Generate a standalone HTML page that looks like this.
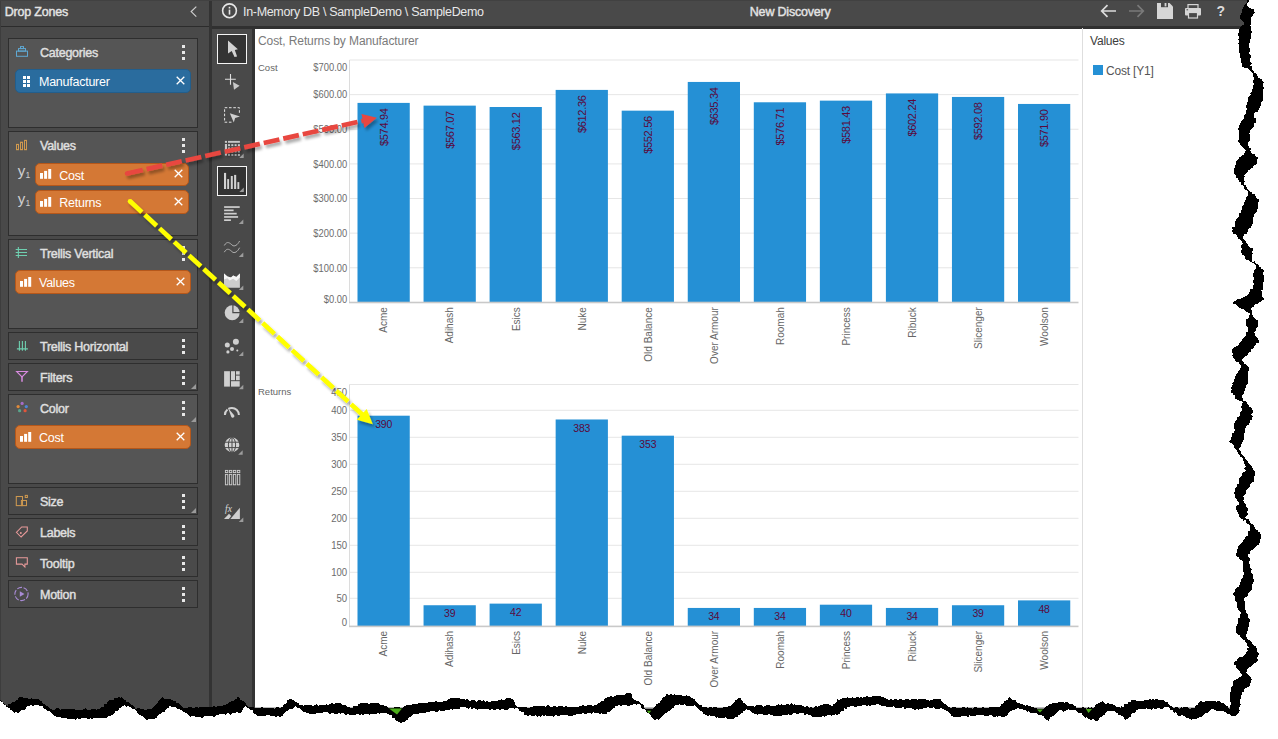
<!DOCTYPE html>
<html>
<head>
<meta charset="utf-8">
<title>Discovery</title>
<style>
html,body{margin:0;padding:0;background:#fff;}
body{width:1278px;height:739px;overflow:hidden;position:relative;font-family:"Liberation Sans",sans-serif;}
.a{position:absolute;}
.t{position:absolute;white-space:nowrap;line-height:1;}
#left{left:0;top:0;width:209px;height:739px;background:#494949;}
#divider{left:209px;top:0;width:3px;height:739px;background:#333;}
#header{left:212px;top:0;width:1066px;height:26px;background:#494949;}
#hline{left:212px;top:26px;width:1066px;height:2.75px;background:#303030;}
#hline2{left:0;top:26px;width:209px;height:1px;background:#2c2c2c;}
#edgeL{left:0;top:0;width:1px;height:739px;background:#3d3d3d;}
#edgeT{left:0;top:0;width:1278px;height:1px;background:#414141;}
#toolbar{left:212px;top:28px;width:40px;height:711px;background:#494949;}
#tbedge{left:252px;top:28px;width:2.7px;height:711px;background:#333;}
.box{position:absolute;left:8px;width:188px;border:1px solid #2e2e2e;background:#555;}
.box.c{background:#4a4a4a;}
.bt{position:absolute;left:31px;top:6.4px;font-size:12.5px;color:#e0e0e0;white-space:nowrap;line-height:16px;letter-spacing:-0.25px;-webkit-text-stroke:0.4px #e0e0e0;}
.dots{position:absolute;left:173px;top:6px;width:3px;height:17px;}
.dots i{position:absolute;left:0;width:3px;height:3px;background:#e8e8e8;}
.chip{position:absolute;height:21.5px;border-radius:5px;border:1px solid #b5571a;background:#d47835;color:#fff;font-size:12.5px;line-height:25px;white-space:nowrap;}
.chip.b{background:#2a6c9e;border-color:#225e8c;}
.chip span{position:absolute;top:0;letter-spacing:-0.25px;}
.corner{position:absolute;right:1px;bottom:1px;width:0;height:0;border-left:5px solid transparent;border-bottom:5px solid #9a9a9a;}
svg{position:absolute;overflow:visible;}
</style>
</head>
<body>
<div id="left" class="a"></div>
<div id="divider" class="a"></div>
<div id="header" class="a"></div>
<div id="toolbar" class="a"></div>
<div id="tbedge" class="a"></div>
<div id="hline" class="a"></div><div id="hline2" class="a"></div><div id="edgeL" class="a"></div><div id="edgeT" class="a"></div>
<!-- LEFT PANEL -->
<div class="t" style="left:4.8px;top:5.8px;font-size:12.5px;color:#e4e4e4;letter-spacing:-0.2px;-webkit-text-stroke:0.4px #e4e4e4;">Drop Zones</div><svg style="left:190px;top:5.5px;" width="8" height="12" viewBox="0 0 8 12"><path d="M6.3 0.6L1.2 5.6L6.3 10.6" stroke="#cfcfcf" stroke-width="1.2" fill="none"/></svg><div class="box" style="top:38px;height:88px;"><svg style="left:5.2px;top:4px;" width="18" height="18" viewBox="0 0 18 18"><g fill="none" stroke="#5fa8d3" stroke-width="1"><rect x="6.5" y="3.6" width="3" height="2"/><rect x="4.5" y="5.6" width="7" height="2.5"/><rect x="2.5" y="8.1" width="11" height="5.2"/></g></svg><div class="bt">Categories</div><div class="dots"><i style="top:0"></i><i style="top:6px"></i><i style="top:12px"></i></div><div class="chip b" style="left:6px;top:30px;width:174px;"><svg style="left:7px;top:6px;" width="8" height="12" viewBox="0 0 8 12"><g fill="#fff"><rect x="0" y="0" width="3" height="3"/><rect x="4" y="0" width="3" height="3"/><rect x="0" y="4" width="3" height="3"/><rect x="4" y="4" width="3" height="3"/><rect x="0" y="8" width="3" height="3"/><rect x="4" y="8" width="3" height="3"/></g></svg><span style="left:23px">Manufacturer</span><svg style="right:5.3px;top:5.7px;" width="9" height="9" viewBox="0 0 9 9"><path d="M0.7 0.7L8.3 8.3M8.3 0.7L0.7 8.3" stroke="#fff" stroke-width="1.3" fill="none"/></svg></div></div><div class="box" style="top:131px;height:103px;"><svg style="left:5.2px;top:4px;" width="18" height="18" viewBox="0 0 18 18"><g fill="none" stroke="#d0994e" stroke-width="1"><rect x="2.5" y="8.4" width="2" height="5.3"/><rect x="6.5" y="6.2" width="2" height="7.5"/><rect x="10.5" y="4.4" width="2" height="9.3"/></g></svg><div class="bt">Values</div><div class="dots"><i style="top:0"></i><i style="top:6px"></i><i style="top:12px"></i></div><div class="t" style="left:8.8px;top:31.2px;font-size:15px;color:#cfcfcf;">y<span style="font-size:8.5px;position:relative;top:1.6px;left:0.3px;">1</span></div><div class="chip" style="left:26.3px;top:30.5px;width:151.5px;"><svg style="left:3.6px;top:5.5px;" width="12" height="10" viewBox="0 0 12 10"><rect x="0" y="4" width="3" height="5.8" fill="#fff"/><rect x="4.1" y="1.9" width="3" height="7.9" fill="#fff"/><rect x="8.2" y="0" width="3" height="9.8" fill="#fff"/></svg><span style="left:23px">Cost</span><svg style="right:5.3px;top:5.7px;" width="9" height="9" viewBox="0 0 9 9"><path d="M0.7 0.7L8.3 8.3M8.3 0.7L0.7 8.3" stroke="#fff" stroke-width="1.3" fill="none"/></svg></div><div class="t" style="left:8.8px;top:59px;font-size:15px;color:#cfcfcf;">y<span style="font-size:8.5px;position:relative;top:1.6px;left:0.3px;">1</span></div><div class="chip" style="left:26.3px;top:58.3px;width:151.5px;"><svg style="left:3.6px;top:5.5px;" width="12" height="10" viewBox="0 0 12 10"><rect x="0" y="4" width="3" height="5.8" fill="#fff"/><rect x="4.1" y="1.9" width="3" height="7.9" fill="#fff"/><rect x="8.2" y="0" width="3" height="9.8" fill="#fff"/></svg><span style="left:23px">Returns</span><svg style="right:5.3px;top:5.7px;" width="9" height="9" viewBox="0 0 9 9"><path d="M0.7 0.7L8.3 8.3M8.3 0.7L0.7 8.3" stroke="#fff" stroke-width="1.3" fill="none"/></svg></div></div><div class="box" style="top:239px;height:88px;"><svg style="left:5.2px;top:4px;" width="18" height="18" viewBox="0 0 18 18"><g fill="none" stroke="#6fcfb0" stroke-width="1.1"><path d="M1.7 5.5H13M1.7 8.45H13M1.7 11.45H13M4.35 2.9V14"/></g></svg><div class="bt">Trellis Vertical</div><div class="dots"><i style="top:0"></i><i style="top:6px"></i><i style="top:12px"></i></div><div class="chip" style="left:6px;top:30px;width:174px;"><svg style="left:3.6px;top:5.5px;" width="12" height="10" viewBox="0 0 12 10"><rect x="0" y="4" width="3" height="5.8" fill="#fff"/><rect x="4.1" y="1.9" width="3" height="7.9" fill="#fff"/><rect x="8.2" y="0" width="3" height="9.8" fill="#fff"/></svg><span style="left:23px">Values</span><svg style="right:5.3px;top:5.7px;" width="9" height="9" viewBox="0 0 9 9"><path d="M0.7 0.7L8.3 8.3M8.3 0.7L0.7 8.3" stroke="#fff" stroke-width="1.3" fill="none"/></svg></div></div><div class="box c" style="top:332px;height:26px;"><svg style="left:5.2px;top:4px;" width="18" height="18" viewBox="0 0 18 18"><g fill="none" stroke="#6fcfb0" stroke-width="1.1"><path d="M5.4 3.9V13.7M8.4 3.9V13.7M11.4 3.9V13.7M2.9 11.9H13.9"/></g></svg><div class="bt">Trellis Horizontal</div><div class="dots"><i style="top:0"></i><i style="top:6px"></i><i style="top:12px"></i></div></div><div class="box c" style="top:363px;height:26px;"><svg style="left:5.2px;top:4px;" width="18" height="18" viewBox="0 0 18 18"><g fill="none" stroke="#d98be0"><path d="M2.6 3.5H13.4L8 9L2.6 3.5Z" stroke-width="1.1"/><path d="M8 8.6V13.8" stroke-width="1.5"/></g></svg><div class="bt">Filters</div><div class="dots"><i style="top:0"></i><i style="top:6px"></i><i style="top:12px"></i></div><div class="corner"></div></div><div class="box" style="top:394px;height:88px;"><svg style="left:5.2px;top:4px;" width="18" height="18" viewBox="0 0 18 18"><circle cx="8.15" cy="4.4" r="1.6" fill="#a56cc8"/><circle cx="4.1" cy="7.6" r="1.6" fill="#e08a3a"/><circle cx="12.3" cy="7.6" r="1.6" fill="#4f86d8"/><circle cx="5.6" cy="11.7" r="1.6" fill="#5aa58c"/><circle cx="11.1" cy="11.7" r="1.6" fill="#e2553a"/></svg><div class="bt">Color</div><div class="dots"><i style="top:0"></i><i style="top:6px"></i><i style="top:12px"></i></div><div class="corner" style="bottom:auto;top:22px;"></div><div class="chip" style="left:6px;top:30px;width:174px;"><svg style="left:3.6px;top:5.5px;" width="12" height="10" viewBox="0 0 12 10"><rect x="0" y="4" width="3" height="5.8" fill="#fff"/><rect x="4.1" y="1.9" width="3" height="7.9" fill="#fff"/><rect x="8.2" y="0" width="3" height="9.8" fill="#fff"/></svg><span style="left:23px">Cost</span><svg style="right:5.3px;top:5.7px;" width="9" height="9" viewBox="0 0 9 9"><path d="M0.7 0.7L8.3 8.3M8.3 0.7L0.7 8.3" stroke="#fff" stroke-width="1.3" fill="none"/></svg></div></div><div class="box c" style="top:487px;height:26px;"><svg style="left:5.2px;top:4px;" width="18" height="18" viewBox="0 0 18 18"><g fill="none" stroke="#cc9850" stroke-width="1.05"><rect x="2.3" y="4.5" width="6.2" height="9.1"/><rect x="7.4" y="8.5" width="5.1" height="5.1"/><rect x="11.25" y="3.4" width="2.15" height="2.1"/></g></svg><div class="bt">Size</div><div class="dots"><i style="top:0"></i><i style="top:6px"></i><i style="top:12px"></i></div><div class="corner"></div></div><div class="box c" style="top:518px;height:26px;"><svg style="left:5.2px;top:4px;" width="18" height="18" viewBox="0 0 18 18"><g fill="none" stroke="#e89a9a" stroke-width="1.05"><path d="M2.4 9.3L7.7 4H13.3V8L7.1 14Z"/></g><circle cx="6.8" cy="9.9" r="1" fill="#e89a9a"/></svg><div class="bt">Labels</div><div class="dots"><i style="top:0"></i><i style="top:6px"></i><i style="top:12px"></i></div></div><div class="box c" style="top:549px;height:26px;"><svg style="left:5.2px;top:4px;" width="18" height="18" viewBox="0 0 18 18"><g fill="none" stroke="#e89a9a" stroke-width="1.05"><path d="M2.4 3.7H13.3V10.1H10.9V13L8 10.1H2.4Z"/></g></svg><div class="bt">Tooltip</div><div class="dots"><i style="top:0"></i><i style="top:6px"></i><i style="top:12px"></i></div></div><div class="box c" style="top:580px;height:26px;"><svg style="left:5.2px;top:4px;" width="18" height="18" viewBox="0 0 18 18"><g fill="none" stroke="#a98bd6" stroke-width="1.1"><circle cx="7.5" cy="9" r="6.6" stroke-dasharray="5 1.6"/></g><path d="M5.8 6.3L10.5 9L5.8 11.7Z" fill="#a98bd6"/></svg><div class="bt">Motion</div><div class="dots"><i style="top:0"></i><i style="top:6px"></i><i style="top:12px"></i></div></div>
<!-- HEADER -->
<svg style="left:221px;top:3px;" width="17" height="17" viewBox="0 0 17 17"><circle cx="8.5" cy="7.8" r="6.9" fill="none" stroke="#e6e6e6" stroke-width="1.6"/><rect x="7.7" y="6.6" width="1.6" height="5" fill="#e6e6e6"/><rect x="7.7" y="3.8" width="1.6" height="1.7" fill="#e6e6e6"/></svg><div class="t" style="left:243px;top:5.5px;font-size:12.5px;color:#e8e8e8;letter-spacing:-0.32px;">In-Memory DB \ SampleDemo \ SampleDemo</div><div class="t" style="left:749.8px;top:5.7px;font-size:12.5px;color:#e4e4e4;letter-spacing:-0.2px;-webkit-text-stroke:0.4px #e4e4e4;">New Discovery</div><svg style="left:1100px;top:4px;" width="17" height="14" viewBox="0 0 17 14"><path d="M16 7H2M7.5 1.2L1.7 7L7.5 12.8" stroke="#dcdcdc" stroke-width="1.7" fill="none"/></svg><svg style="left:1128px;top:4px;" width="17" height="14" viewBox="0 0 17 14"><path d="M1 7H15M9.5 1.2L15.3 7L9.5 12.8" stroke="#7a7a7a" stroke-width="1.7" fill="none"/></svg><svg style="left:1157px;top:3px;" width="16" height="16" viewBox="0 0 16 16"><path d="M0 0H12.5L16 3.5V16H0Z" fill="#d6d6d6"/><rect x="4" y="0" width="7" height="4.2" fill="#494949"/><rect x="7.6" y="0" width="1.8" height="3.4" fill="#d6d6d6"/></svg><svg style="left:1185px;top:4px;" width="16" height="15" viewBox="0 0 16 15"><rect x="3" y="0.6" width="10" height="4" fill="none" stroke="#d6d6d6" stroke-width="1.2"/><rect x="0" y="4" width="16" height="7.5" rx="1" fill="#d6d6d6"/><rect x="3.5" y="8.5" width="9" height="5.5" fill="#494949" stroke="#d6d6d6" stroke-width="1.2"/><rect x="1.5" y="5.3" width="1.6" height="1" fill="#494949"/></svg><div class="t" style="left:1216.5px;top:4px;font-size:14px;font-weight:bold;color:#dcdcdc;">?</div>
<!-- CHART -->
<div class="a" style="left:254.7px;top:28.75px;width:1024px;height:711px;background:#fff;"></div><div class="t" style="left:258px;top:35px;font-size:12px;color:#7a7a7a;letter-spacing:-0.1px;">Cost, Returns by Manufacturer</div><div class="a" style="left:1082px;top:28px;width:1px;height:711px;background:#dedede;"></div><div class="t" style="left:1090px;top:35px;font-size:12px;color:#3c3c3c;letter-spacing:-0.2px;">Values</div><div class="a" style="left:1093px;top:65px;width:10px;height:10px;background:#2590d5;"></div><div class="t" style="left:1106px;top:64.5px;font-size:12px;color:#555;letter-spacing:-0.2px;">Cost [Y1]</div><div class="t" style="left:258px;top:63px;font-size:9.5px;color:#666;">Cost</div><div class="t" style="left:258px;top:387px;font-size:9.5px;color:#666;">Returns</div><svg style="left:0;top:0;" width="1278" height="739" viewBox="0 0 1278 739" font-family="Liberation Sans, sans-serif"><text transform="translate(347.2,302.90) scale(0.875,1)" font-size="10.7" fill="#6c6c6c" text-anchor="end">$0.00</text><rect x="349.5" y="267.27" width="729.0" height="1" fill="#e6e6e6"/><text transform="translate(347.2,271.57) scale(0.875,1)" font-size="10.7" fill="#6c6c6c" text-anchor="end">$100.00</text><rect x="349.5" y="232.64" width="729.0" height="1" fill="#e6e6e6"/><text transform="translate(347.2,236.94) scale(0.875,1)" font-size="10.7" fill="#6c6c6c" text-anchor="end">$200.00</text><rect x="349.5" y="198.01" width="729.0" height="1" fill="#e6e6e6"/><text transform="translate(347.2,202.31) scale(0.875,1)" font-size="10.7" fill="#6c6c6c" text-anchor="end">$300.00</text><rect x="349.5" y="163.39" width="729.0" height="1" fill="#e6e6e6"/><text transform="translate(347.2,167.69) scale(0.875,1)" font-size="10.7" fill="#6c6c6c" text-anchor="end">$400.00</text><rect x="349.5" y="128.76" width="729.0" height="1" fill="#e6e6e6"/><text transform="translate(347.2,133.06) scale(0.875,1)" font-size="10.7" fill="#6c6c6c" text-anchor="end">$500.00</text><rect x="349.5" y="94.13" width="729.0" height="1" fill="#e6e6e6"/><text transform="translate(347.2,98.43) scale(0.875,1)" font-size="10.7" fill="#6c6c6c" text-anchor="end">$600.00</text><rect x="349.5" y="59.50" width="729.0" height="1" fill="#e6e6e6"/><text transform="translate(347.2,71.10) scale(0.875,1)" font-size="10.7" fill="#6c6c6c" text-anchor="end">$700.00</text><rect x="349.0" y="60" width="1" height="242.39999999999998" fill="#dcdcdc"/><rect x="357.5" y="102.90" width="52.25" height="199.50" fill="#2590d5"/><text transform="translate(387.82,108.40) rotate(-90)" font-size="11" fill="#5a093c" text-anchor="end" letter-spacing="-0.3">$574.94</text><rect x="423.55" y="105.63" width="52.25" height="196.77" fill="#2590d5"/><text transform="translate(453.88,111.13) rotate(-90)" font-size="11" fill="#5a093c" text-anchor="end" letter-spacing="-0.3">$567.07</text><rect x="489.6" y="107.00" width="52.25" height="195.40" fill="#2590d5"/><text transform="translate(519.93,112.50) rotate(-90)" font-size="11" fill="#5a093c" text-anchor="end" letter-spacing="-0.3">$563.12</text><rect x="555.65" y="89.91" width="52.25" height="212.49" fill="#2590d5"/><text transform="translate(585.98,95.41) rotate(-90)" font-size="11" fill="#5a093c" text-anchor="end" letter-spacing="-0.3">$612.36</text><rect x="621.7" y="110.66" width="52.25" height="191.74" fill="#2590d5"/><text transform="translate(652.03,116.16) rotate(-90)" font-size="11" fill="#5a093c" text-anchor="end" letter-spacing="-0.3">$552.56</text><rect x="687.75" y="81.94" width="52.25" height="220.46" fill="#2590d5"/><text transform="translate(718.08,87.44) rotate(-90)" font-size="11" fill="#5a093c" text-anchor="end" letter-spacing="-0.3">$635.34</text><rect x="753.8" y="102.28" width="52.25" height="200.12" fill="#2590d5"/><text transform="translate(784.12,107.78) rotate(-90)" font-size="11" fill="#5a093c" text-anchor="end" letter-spacing="-0.3">$576.71</text><rect x="819.8499999999999" y="100.64" width="52.25" height="201.76" fill="#2590d5"/><text transform="translate(850.17,106.14) rotate(-90)" font-size="11" fill="#5a093c" text-anchor="end" letter-spacing="-0.3">$581.43</text><rect x="885.9" y="93.42" width="52.25" height="208.98" fill="#2590d5"/><text transform="translate(916.23,98.92) rotate(-90)" font-size="11" fill="#5a093c" text-anchor="end" letter-spacing="-0.3">$602.24</text><rect x="951.9499999999999" y="96.95" width="52.25" height="205.45" fill="#2590d5"/><text transform="translate(982.27,102.45) rotate(-90)" font-size="11" fill="#5a093c" text-anchor="end" letter-spacing="-0.3">$592.08</text><rect x="1018.0" y="103.95" width="52.25" height="198.45" fill="#2590d5"/><text transform="translate(1048.33,109.45) rotate(-90)" font-size="11" fill="#5a093c" text-anchor="end" letter-spacing="-0.3">$571.90</text><rect x="349.0" y="301.7" width="729.5" height="1.6" fill="#c9c9c9"/><text transform="translate(387.43,307.20) rotate(-90)" font-size="10" fill="#666" text-anchor="end">Acme</text><text transform="translate(453.48,307.20) rotate(-90)" font-size="10" fill="#666" text-anchor="end">Adihash</text><text transform="translate(519.52,307.20) rotate(-90)" font-size="10" fill="#666" text-anchor="end">Esics</text><text transform="translate(585.57,307.20) rotate(-90)" font-size="10" fill="#666" text-anchor="end">Nuke</text><text transform="translate(651.62,307.20) rotate(-90)" font-size="10" fill="#666" text-anchor="end">Old Balance</text><text transform="translate(717.67,307.20) rotate(-90)" font-size="10" fill="#666" text-anchor="end">Over Armour</text><text transform="translate(783.72,307.20) rotate(-90)" font-size="10" fill="#666" text-anchor="end">Roomah</text><text transform="translate(849.77,307.20) rotate(-90)" font-size="10" fill="#666" text-anchor="end">Princess</text><text transform="translate(915.82,307.20) rotate(-90)" font-size="10" fill="#666" text-anchor="end">Ribuck</text><text transform="translate(981.87,307.20) rotate(-90)" font-size="10" fill="#666" text-anchor="end">Slicenger</text><text transform="translate(1047.92,307.20) rotate(-90)" font-size="10" fill="#666" text-anchor="end">Woolson</text><text transform="translate(347.2,626.30) scale(0.9,1)" font-size="10.7" fill="#6c6c6c" text-anchor="end">0</text><rect x="349.5" y="597.80" width="729.0" height="1" fill="#e6e6e6"/><text transform="translate(347.2,602.10) scale(0.9,1)" font-size="10.7" fill="#6c6c6c" text-anchor="end">50</text><rect x="349.5" y="571.80" width="729.0" height="1" fill="#e6e6e6"/><text transform="translate(347.2,576.10) scale(0.9,1)" font-size="10.7" fill="#6c6c6c" text-anchor="end">100</text><rect x="349.5" y="544.80" width="729.0" height="1" fill="#e6e6e6"/><text transform="translate(347.2,549.10) scale(0.9,1)" font-size="10.7" fill="#6c6c6c" text-anchor="end">150</text><rect x="349.5" y="517.80" width="729.0" height="1" fill="#e6e6e6"/><text transform="translate(347.2,522.10) scale(0.9,1)" font-size="10.7" fill="#6c6c6c" text-anchor="end">200</text><rect x="349.5" y="490.80" width="729.0" height="1" fill="#e6e6e6"/><text transform="translate(347.2,495.10) scale(0.9,1)" font-size="10.7" fill="#6c6c6c" text-anchor="end">250</text><rect x="349.5" y="463.80" width="729.0" height="1" fill="#e6e6e6"/><text transform="translate(347.2,468.10) scale(0.9,1)" font-size="10.7" fill="#6c6c6c" text-anchor="end">300</text><rect x="349.5" y="436.80" width="729.0" height="1" fill="#e6e6e6"/><text transform="translate(347.2,441.10) scale(0.9,1)" font-size="10.7" fill="#6c6c6c" text-anchor="end">350</text><rect x="349.5" y="409.80" width="729.0" height="1" fill="#e6e6e6"/><text transform="translate(347.2,414.10) scale(0.9,1)" font-size="10.7" fill="#6c6c6c" text-anchor="end">400</text><rect x="349.5" y="384.00" width="729.0" height="1" fill="#e6e6e6"/><text transform="translate(347.2,395.80) scale(0.9,1)" font-size="10.7" fill="#6c6c6c" text-anchor="end">450</text><rect x="349.0" y="384.5" width="1" height="241.79999999999995" fill="#dcdcdc"/><rect x="357.5" y="415.70" width="52.25" height="210.60" fill="#2590d5"/><text x="383.62" y="427.90" font-size="10.5" fill="#5a093c" text-anchor="middle" letter-spacing="-0.2">390</text><rect x="423.55" y="605.24" width="52.25" height="21.06" fill="#2590d5"/><text x="449.68" y="617.44" font-size="10.5" fill="#5a093c" text-anchor="middle" letter-spacing="-0.2">39</text><rect x="489.6" y="603.62" width="52.25" height="22.68" fill="#2590d5"/><text x="515.73" y="615.82" font-size="10.5" fill="#5a093c" text-anchor="middle" letter-spacing="-0.2">42</text><rect x="555.65" y="419.48" width="52.25" height="206.82" fill="#2590d5"/><text x="581.77" y="431.68" font-size="10.5" fill="#5a093c" text-anchor="middle" letter-spacing="-0.2">383</text><rect x="621.7" y="435.68" width="52.25" height="190.62" fill="#2590d5"/><text x="647.83" y="447.88" font-size="10.5" fill="#5a093c" text-anchor="middle" letter-spacing="-0.2">353</text><rect x="687.75" y="607.94" width="52.25" height="18.36" fill="#2590d5"/><text x="713.88" y="620.14" font-size="10.5" fill="#5a093c" text-anchor="middle" letter-spacing="-0.2">34</text><rect x="753.8" y="607.94" width="52.25" height="18.36" fill="#2590d5"/><text x="779.92" y="620.14" font-size="10.5" fill="#5a093c" text-anchor="middle" letter-spacing="-0.2">34</text><rect x="819.8499999999999" y="604.70" width="52.25" height="21.60" fill="#2590d5"/><text x="845.97" y="616.90" font-size="10.5" fill="#5a093c" text-anchor="middle" letter-spacing="-0.2">40</text><rect x="885.9" y="607.94" width="52.25" height="18.36" fill="#2590d5"/><text x="912.02" y="620.14" font-size="10.5" fill="#5a093c" text-anchor="middle" letter-spacing="-0.2">34</text><rect x="951.9499999999999" y="605.24" width="52.25" height="21.06" fill="#2590d5"/><text x="978.07" y="617.44" font-size="10.5" fill="#5a093c" text-anchor="middle" letter-spacing="-0.2">39</text><rect x="1018.0" y="600.38" width="52.25" height="25.92" fill="#2590d5"/><text x="1044.12" y="612.58" font-size="10.5" fill="#5a093c" text-anchor="middle" letter-spacing="-0.2">48</text><rect x="349.0" y="625.5999999999999" width="729.5" height="1.6" fill="#c9c9c9"/><text transform="translate(387.43,630.90) rotate(-90)" font-size="10" fill="#666" text-anchor="end">Acme</text><text transform="translate(453.48,630.90) rotate(-90)" font-size="10" fill="#666" text-anchor="end">Adihash</text><text transform="translate(519.52,630.90) rotate(-90)" font-size="10" fill="#666" text-anchor="end">Esics</text><text transform="translate(585.57,630.90) rotate(-90)" font-size="10" fill="#666" text-anchor="end">Nuke</text><text transform="translate(651.62,630.90) rotate(-90)" font-size="10" fill="#666" text-anchor="end">Old Balance</text><text transform="translate(717.67,630.90) rotate(-90)" font-size="10" fill="#666" text-anchor="end">Over Armour</text><text transform="translate(783.72,630.90) rotate(-90)" font-size="10" fill="#666" text-anchor="end">Roomah</text><text transform="translate(849.77,630.90) rotate(-90)" font-size="10" fill="#666" text-anchor="end">Princess</text><text transform="translate(915.82,630.90) rotate(-90)" font-size="10" fill="#666" text-anchor="end">Ribuck</text><text transform="translate(981.87,630.90) rotate(-90)" font-size="10" fill="#666" text-anchor="end">Slicenger</text><text transform="translate(1047.92,630.90) rotate(-90)" font-size="10" fill="#666" text-anchor="end">Woolson</text></svg>
<!-- TOOLBAR ICONS -->
<svg style="left:0;top:0;" width="1278" height="739" viewBox="0 0 1278 739"><rect x="217.5" y="34.5" width="29" height="29" fill="#333" stroke="#f4f4f4" stroke-width="1"/><rect x="217.5" y="166.5" width="29" height="29" fill="#333" stroke="#f4f4f4" stroke-width="1"/><path d="M228 40.6L237.9 49.3L234.8 50L237.1 56.5L234.5 57.1L231.7 50.9L228 53.6Z" fill="#d2d2d2"/><path d="M225 79.2H235.8M230.5 74V84.8" stroke="#e0e0e0" stroke-width="1.1" fill="none"/><path d="M232.9 81.9L239.6 85.8L234 89.8Z" fill="#c8c8c8"/><path d="M231.5 122.2H224.6V107.7H239.4V113" fill="none" stroke="#e4e4e4" stroke-width="1" stroke-dasharray="2.6 1.7"/><path d="M229.8 113.2L240 116.4L235.1 117.9L233.8 122.4Z" fill="#d0d0d0"/><g fill="#c8c8c8"><rect x="224.9" y="140.9" width="2.1" height="1.9"/><rect x="228" y="140.9" width="11.9" height="1.9"/><rect x="224.9" y="144" width="2.1" height="11.6"/><rect x="228.0" y="144.20" width="2" height="1.9"/><rect x="231.3" y="144.20" width="2" height="1.9"/><rect x="234.6" y="144.20" width="2" height="1.9"/><rect x="237.9" y="144.20" width="2" height="1.9"/><rect x="228.0" y="147.45" width="2" height="1.9"/><rect x="231.3" y="147.45" width="2" height="1.9"/><rect x="234.6" y="147.45" width="2" height="1.9"/><rect x="237.9" y="147.45" width="2" height="1.9"/><rect x="228.0" y="150.70" width="2" height="1.9"/><rect x="231.3" y="150.70" width="2" height="1.9"/><rect x="234.6" y="150.70" width="2" height="1.9"/><rect x="237.9" y="150.70" width="2" height="1.9"/><rect x="228.0" y="153.95" width="2" height="1.9"/><rect x="231.3" y="153.95" width="2" height="1.9"/><rect x="234.6" y="153.95" width="2" height="1.9"/><rect x="237.9" y="153.95" width="2" height="1.9"/></g><path d="M243.7 153.6V158.1H239.2Z" fill="#9c9c9c"/><g fill="#d2d2d2"><rect x="224" y="172.9" width="2.1" height="16.1"/><rect x="227.2" y="179.1" width="1.9" height="9.9"/><rect x="230.8" y="176" width="2" height="13"/><rect x="234.1" y="174.9" width="2.1" height="14.1"/><rect x="237.4" y="182.1" width="1.9" height="6.9"/></g><path d="M243.8 187.4V191.9H239.3Z" fill="#9c9c9c"/><g fill="#cfcfcf"><rect x="224.1" y="206.2" width="15.6" height="1.7"/><rect x="224.1" y="209.5" width="9.5" height="1.7"/><rect x="224.1" y="212.8" width="12.6" height="1.7"/><rect x="224.1" y="216.1" width="14" height="1.7"/><rect x="224.1" y="219.3" width="6.8" height="1.7"/></g><path d="M243.3 219.6V224.1H238.8Z" fill="#9c9c9c"/><g fill="none" stroke="#b0b0b0" stroke-width="1"><path d="M224.3 245.5C227 240.5 230 243 232 245C234.5 247.3 237.5 245 239.6 241"/><path d="M224.3 252.2C227 247.2 230 249.7 232 251.7C234.5 254 237.5 251.7 239.6 247.7"/></g><path d="M243.3 252.4V256.9H238.8Z" fill="#9c9c9c"/><path d="M224 273.4L227.4 276.5L231 277.4L233.2 275.6L236.3 277L239.9 273.6V287.7H224Z" fill="#cdcdcd"/><path d="M224 273.4L227.4 276.5L231 277.4L233.2 275.6L236.3 277L239.9 273.6V277.6L236.3 281L233.2 278.7L229.6 280.5L227.4 278.3L224 279.4Z" fill="#f6f6f6"/><path d="M243.3 285.6V290.1H238.8Z" fill="#9c9c9c"/><circle cx="232.2" cy="312.7" r="7.5" fill="#d0d0d0"/><path d="M232.9 304.8V312.6H240.2" fill="none" stroke="#494949" stroke-width="1.2"/><path d="M243.3 318.6V323.1H238.8Z" fill="#9c9c9c"/><g fill="#cfcfcf"><circle cx="235.9" cy="341.7" r="3"/><circle cx="227.3" cy="345" r="2.5"/><circle cx="232" cy="349" r="2"/><circle cx="227.9" cy="351.9" r="1.6"/><circle cx="237.3" cy="350.6" r="1"/></g><path d="M243.3 351.6V356.1H238.8Z" fill="#9c9c9c"/><g fill="#cfcfcf"><rect x="224.1" y="371.2" width="5.8" height="15.4"/><rect x="231" y="371.2" width="4" height="9"/><rect x="236" y="371.2" width="3.7" height="3.4"/><rect x="236" y="375.6" width="3.7" height="4.6"/><rect x="231" y="381.2" width="8.7" height="5.4"/></g><path d="M243.3 384.8V389.3H238.8Z" fill="#9c9c9c"/><path d="M224.9 415A7 7 0 0 1 238.9 415" fill="none" stroke="#d2d2d2" stroke-width="2" stroke-dasharray="6.2 1 100"/><path d="M228.2 408.3L234.2 415.2A1.7 1.7 0 0 1 231.2 416.8Z" fill="#d2d2d2"/><circle cx="232" cy="444.9" r="7.3" fill="#d2d2d2"/><g stroke="#494949" stroke-width="1" fill="none"><path d="M224.5 442.2H239.5M224.5 447.6H239.5M232 437.5V452.4"/><ellipse cx="232" cy="444.9" rx="3.6" ry="7.3"/></g><path d="M242.7 450.3V454.8H238.2Z" fill="#9c9c9c"/><g fill="none" stroke="#cfcfcf" stroke-width="0.9"><rect x="225.4" y="470.4" width="2.4" height="2.2"/><rect x="225.4" y="474.4" width="2.4" height="10.4"/><rect x="229.4" y="470.4" width="2.4" height="2.2"/><rect x="229.4" y="474.4" width="2.4" height="10.4"/><rect x="233.4" y="470.4" width="2.4" height="2.2"/><rect x="233.4" y="474.4" width="2.4" height="10.4"/><rect x="237.4" y="470.4" width="2.4" height="2.2"/><rect x="237.4" y="474.4" width="2.4" height="10.4"/></g><text x="225" y="511.6" font-family="Liberation Serif" font-style="italic" font-size="9.5" fill="#dadada">fx</text><path d="M224 518.9L229 513.7L231.2 516.1L228.8 518.9Z" fill="#cfcfcf"/><path d="M230.4 518.9L239.9 507.7V518.9Z" fill="#cfcfcf"/><path d="M243.3 517.6V522.1H238.8Z" fill="#9c9c9c"/></svg>
<!-- ARROWS -->
<svg style="left:0;top:0;" width="1278" height="739" viewBox="0 0 1278 739"><defs><filter id="sh" x="-10%" y="-10%" width="120%" height="130%"><feGaussianBlur in="SourceAlpha" stdDeviation="1.5"/><feOffset dx="1.5" dy="2.5"/><feComponentTransfer><feFuncA type="linear" slope="0.33"/></feComponentTransfer><feMerge><feMergeNode/><feMergeNode in="SourceGraphic"/></feMerge></filter></defs><g filter="url(#sh)"><path d="M127.1 173.5L363 120.8" stroke="#e8473f" stroke-width="4.7" stroke-dasharray="16 4" fill="none"/><circle cx="127.1" cy="173.5" r="2.35" fill="#e8473f"/><path d="M376.9 117.8L361.5 114L364.4 127.9Z" fill="#e8473f"/></g><g filter="url(#sh)"><path d="M130.1 201.3L362.3 414.6" stroke="#ffff00" stroke-width="4.7" stroke-dasharray="16 4" fill="none"/><circle cx="130.1" cy="201.3" r="2.35" fill="#ffff00"/><path d="M372.8 424.3L356.6 419.8L366.7 409Z" fill="#ffff00"/></g></svg>
<!-- TORN EDGE -->
<svg style="left:0;top:0;" width="1278" height="739" viewBox="0 0 1278 739"><rect x="255" y="707.6" width="975" height="1.1" fill="#555"/><polygon points="0.0,700.0 1.6,700.6 2.4,702.1 3.9,702.8 4.9,704.2 6.1,705.2 7.7,705.7 8.3,704.2 10.7,704.5 11.4,702.6 12.7,701.6 15.0,701.8 15.8,700.0 17.6,699.5 18.6,698.0 20.1,697.1 21.8,696.6 23.3,697.8 24.9,698.5 26.7,698.0 28.3,698.7 29.9,698.8 31.8,697.9 33.3,699.5 35.0,699.4 36.7,699.1 38.5,698.8 40.0,700.3 41.4,701.1 42.5,702.6 43.6,704.0 45.2,704.8 46.3,706.3 48.4,706.6 49.2,708.3 51.0,709.0 52.6,709.9 54.3,709.8 55.9,708.2 57.5,708.3 59.2,708.4 60.8,709.9 62.4,708.9 64.1,709.3 65.7,708.6 67.3,709.0 69.0,708.8 70.6,708.7 72.2,709.2 73.9,709.2 75.5,709.8 77.1,709.4 78.8,709.9 80.4,709.7 82.0,710.0 83.7,709.3 85.3,708.3 86.9,709.7 88.6,709.9 90.2,709.8 91.8,709.1 93.5,709.4 95.1,708.4 96.7,709.7 98.4,709.1 100.0,708.8 100.7,707.2 103.0,707.3 104.4,706.4 104.4,703.9 106.7,703.8 107.4,702.1 108.3,700.6 109.9,699.9 111.8,700.1 113.6,699.9 114.9,697.8 116.9,698.5 118.4,697.0 120.4,697.9 122.0,696.9 122.8,698.7 123.9,699.9 125.8,700.3 126.4,702.1 128.6,702.2 130.2,702.9 130.8,704.8 132.8,705.0 133.8,706.4 134.8,707.8 135.9,709.1 137.7,708.3 139.3,708.1 141.0,709.7 142.7,708.6 144.3,709.9 146.0,709.8 147.7,708.8 149.3,708.9 151.0,709.0 152.4,707.9 153.6,706.6 154.8,705.2 156.1,704.1 157.7,703.2 158.3,701.3 159.5,700.0 161.1,699.1 161.8,697.4 163.7,697.6 165.0,699.3 166.9,698.9 168.5,699.3 170.4,698.7 171.8,700.0 173.3,700.7 175.1,700.6 176.1,702.2 177.4,703.2 179.4,703.3 180.0,705.2 181.5,705.9 182.5,707.3 184.1,707.9 185.7,708.3 187.4,708.3 189.0,706.8 190.6,706.9 192.3,708.0 194.0,708.5 195.6,707.0 197.3,707.4 199.0,707.6 200.7,707.0 202.3,707.0 204.0,706.8 205.7,706.9 207.3,707.3 209.0,706.8 210.6,706.6 212.3,707.2 213.7,705.6 215.4,706.5 217.0,706.7 218.6,705.7 220.1,705.4 221.9,706.4 223.4,705.1 225.0,705.3 226.3,704.5 228.0,704.1 228.8,702.3 230.4,701.8 231.8,701.0 233.7,701.0 234.7,699.4 236.6,699.3 237.3,697.3 238.9,696.9 239.9,698.4 240.7,700.0 242.5,700.6 244.0,701.5 245.3,702.6 245.8,704.3 247.2,705.3 248.4,706.6 250.0,707.1 252.0,706.4 253.5,707.1 254.9,708.2 256.7,708.3 258.3,708.6 260.0,707.7 261.7,707.3 263.3,707.6 265.0,708.6 266.7,707.5 268.3,707.7 270.0,707.8 271.7,707.8 273.3,707.8 275.0,708.8 276.7,707.3 278.3,707.0 280.0,708.4 281.8,707.3 283.2,706.2 283.7,704.2 285.6,703.6 286.9,702.4 287.1,700.1 289.1,699.6 290.2,698.2 291.2,699.3 292.8,700.2 294.5,700.9 295.9,702.0 297.5,702.9 299.1,703.7 300.0,705.6 301.6,704.9 303.4,705.8 304.9,704.1 306.7,705.6 308.4,705.1 310.0,704.8 311.6,705.5 313.3,705.6 315.0,705.2 316.8,704.2 318.3,705.8 320.0,705.2 321.5,704.9 323.2,705.4 324.8,704.9 326.3,704.4 328.1,705.2 329.6,704.4 331.1,703.6 332.7,703.2 334.4,704.2 335.9,703.2 337.5,703.2 339.3,703.2 341.0,703.4 342.5,704.6 344.0,705.6 346.0,704.9 347.3,706.6 348.9,707.3 350.7,707.6 352.4,707.7 353.8,705.9 355.9,706.2 357.8,705.9 358.8,703.7 360.6,703.3 362.4,702.8 364.2,703.2 366.0,703.0 367.8,703.2 369.5,704.0 371.3,702.5 373.1,702.7 374.8,703.0 376.5,703.1 378.3,703.0 380.0,704.4 381.2,705.3 383.3,704.6 384.5,706.0 386.1,706.3 387.7,707.0 389.0,707.9 390.7,708.2 392.4,708.0 394.1,707.5 395.7,707.1 397.4,707.3 399.1,706.9 400.8,707.7 402.5,707.7 404.1,706.7 405.6,705.5 407.3,705.1 409.1,704.9 410.9,704.8 412.6,704.2 414.1,703.6 415.8,704.3 417.4,703.8 419.0,703.3 420.6,703.0 422.2,703.1 423.9,703.4 425.5,702.6 427.2,703.0 428.7,702.4 430.3,701.8 432.0,702.3 433.7,702.4 435.2,701.0 436.9,701.6 438.5,701.5 440.2,702.2 441.8,702.2 443.4,700.9 445.0,701.3 446.8,701.0 448.0,699.4 449.7,699.2 451.0,698.0 453.1,698.7 454.5,697.9 456.1,697.3 457.4,698.0 459.0,698.2 460.5,698.8 462.2,698.9 464.0,698.5 465.3,699.8 467.2,699.2 468.6,699.9 469.9,701.2 471.7,700.1 473.3,700.2 475.0,700.2 476.7,701.8 478.3,700.4 480.0,700.0 481.7,701.7 483.3,700.2 485.0,701.7 486.7,701.3 488.3,701.7 490.0,701.9 491.7,701.2 493.3,701.6 495.0,700.6 496.7,701.2 498.2,700.4 499.9,700.5 501.3,699.0 503.1,700.0 504.8,700.1 506.0,698.0 507.7,698.3 509.4,698.4 511.0,698.3 512.5,699.2 513.7,700.6 514.7,702.2 515.1,704.1 516.0,705.8 517.6,707.0 519.2,706.8 520.8,707.0 522.5,707.0 524.2,707.2 525.9,706.6 527.5,707.5 529.4,708.1 530.8,706.7 532.6,707.0 534.0,705.5 535.9,706.2 537.5,705.7 539.1,705.9 540.7,705.7 542.4,705.7 544.0,706.1 545.6,706.7 547.3,705.2 548.9,705.2 550.5,706.6 552.1,707.0 553.7,706.3 555.4,706.2 557.0,706.8 558.7,705.8 560.3,706.1 561.9,706.0 563.5,706.9 565.1,706.4 566.8,706.3 568.4,707.3 570.0,707.4 571.6,706.5 573.4,707.2 575.0,706.5 576.7,707.3 578.3,706.7 580.0,705.9 581.6,705.7 583.3,705.2 585.0,706.1 586.7,705.8 588.3,705.2 590.0,705.5 591.6,705.3 593.4,706.1 595.0,705.2 596.9,705.4 597.8,703.6 599.3,702.8 600.5,701.7 602.3,701.3 603.7,700.4 604.8,699.0 606.1,697.9 607.6,697.1 609.2,697.4 610.7,696.2 612.4,696.6 614.1,696.8 615.5,695.5 617.0,694.8 618.7,694.5 620.4,695.1 622.0,694.8 623.7,695.0 625.3,694.6 626.7,693.1 628.3,692.7 630.0,692.8 631.5,694.0 631.7,696.0 632.4,697.6 633.3,699.1 635.2,699.9 636.3,701.5 638.5,701.3 640.0,702.4 640.9,704.1 643.0,704.5 644.2,705.8 644.3,708.2 646.1,708.9 647.6,708.7 649.2,709.2 650.9,709.4 652.5,708.6 653.4,707.6 654.7,706.6 655.9,705.5 656.7,704.0 658.4,703.4 660.1,702.7 660.4,700.8 661.8,699.8 662.3,698.1 663.7,697.1 665.4,696.5 665.8,694.6 667.7,694.2 669.2,695.0 671.1,693.5 672.8,695.3 674.7,694.3 676.4,695.3 678.2,695.4 680.0,694.8 681.6,695.5 683.3,695.6 684.9,696.1 686.7,695.2 688.3,696.3 690.0,696.4 691.0,697.4 692.5,698.3 694.3,698.7 695.0,700.4 696.4,701.3 697.2,702.9 698.5,704.0 699.9,704.9 701.7,705.4 702.4,707.1 704.2,707.3 705.8,706.4 707.5,707.9 709.2,707.4 710.8,706.4 712.5,708.1 714.2,706.5 715.8,706.9 717.5,707.7 719.2,707.5 720.8,707.5 722.5,707.7 724.2,707.3 725.8,707.1 727.5,707.2 728.2,705.8 730.3,705.7 731.7,704.7 732.7,703.3 734.2,702.6 735.0,700.9 736.1,699.8 737.6,698.9 739.2,698.2 740.8,698.5 741.4,700.3 743.0,701.1 743.5,703.0 745.3,703.5 746.5,704.6 747.6,705.9 749.2,706.1 751.0,706.5 752.8,705.7 754.5,706.7 756.2,705.2 758.0,705.5 759.8,705.2 761.5,705.2 763.2,706.6 765.0,706.2 766.6,705.3 768.3,705.2 770.0,705.5 771.7,706.0 773.4,706.1 775.0,705.8 776.7,705.4 778.3,704.4 780.0,704.8 781.6,704.3 783.3,704.8 785.0,704.8 786.6,704.0 788.3,703.9 790.0,704.9 791.6,703.3 793.4,704.7 795.0,704.3 796.4,705.2 798.2,704.4 799.8,705.1 801.3,705.4 802.9,705.9 804.4,706.8 806.1,706.6 807.8,706.2 809.2,707.6 810.9,707.2 812.5,707.6 814.2,707.5 815.4,705.7 817.3,706.7 818.8,706.1 820.3,705.3 821.9,704.9 823.4,704.4 824.9,703.8 826.9,704.6 829.0,704.1 830.6,705.5 832.5,706.1 833.4,704.6 834.6,703.5 836.2,702.7 837.1,701.3 837.3,699.3 839.2,699.9 840.9,699.3 842.4,697.9 844.1,698.3 845.8,697.9 847.4,697.3 849.2,698.0 850.9,698.6 852.5,697.4 854.2,698.1 855.7,697.7 857.3,696.4 859.0,697.8 860.5,697.2 862.2,697.7 863.8,697.2 865.4,697.1 866.9,696.2 868.6,697.0 870.2,697.2 871.8,696.9 873.4,696.0 875.0,696.2 876.7,696.4 878.5,696.0 880.2,696.3 881.9,696.7 883.5,697.4 885.2,697.7 886.7,698.7 888.2,699.5 890.0,699.5 891.6,699.3 893.2,699.8 894.9,699.1 896.5,699.4 898.1,700.0 899.8,699.3 901.4,698.9 903.0,700.3 904.6,699.9 906.2,699.2 907.9,699.2 909.5,699.6 911.1,699.7 912.8,698.9 914.4,698.5 916.0,698.9 917.6,700.1 919.2,698.8 920.9,699.4 922.5,699.3 924.5,699.3 926.4,699.6 928.2,700.4 930.1,700.7 931.6,699.7 933.4,699.4 935.3,699.2 937.2,699.4 938.9,698.7 940.9,699.3 941.6,701.0 942.9,702.0 943.7,703.6 945.8,703.6 946.6,705.2 947.9,706.3 949.2,707.2 950.7,708.5 952.6,707.1 954.4,707.0 956.2,707.8 958.0,707.7 959.6,708.2 961.2,707.7 962.8,707.2 964.4,707.0 966.0,708.4 967.6,707.4 969.2,708.4 970.8,707.8 972.4,708.7 974.0,707.4 975.6,707.3 977.2,707.3 978.8,708.4 980.4,708.0 982.0,707.4 983.6,706.9 985.2,708.0 986.8,708.6 988.4,707.8 990.0,706.6 991.6,706.6 993.2,706.7 994.8,706.9 996.4,706.6 998.0,707.1 999.4,706.6 1001.0,705.7 1001.3,703.6 1003.5,703.5 1004.1,701.6 1005.8,700.9 1007.1,699.9 1008.4,698.8 1008.7,696.7 1010.7,697.6 1011.8,699.1 1012.8,700.6 1015.2,700.1 1016.4,701.3 1017.2,703.2 1019.5,702.9 1020.5,704.4 1022.2,704.3 1023.8,705.2 1025.4,705.9 1027.2,704.5 1028.8,705.8 1030.5,705.7 1031.7,706.8 1033.5,707.0 1034.6,708.4 1036.6,708.1 1038.0,708.9 1040.0,708.5 1042.0,709.6 1044.0,709.0 1044.9,707.4 1046.0,706.0 1048.1,705.6 1049.1,704.1 1050.8,704.2 1052.5,703.3 1054.2,703.2 1055.9,702.3 1057.8,703.2 1059.4,701.6 1061.2,702.2 1063.0,702.2 1064.6,702.7 1066.5,701.9 1068.1,702.5 1069.5,704.0 1071.3,703.9 1072.9,704.3 1073.8,705.6 1075.6,705.9 1076.3,707.6 1077.9,708.1 1079.7,707.7 1081.3,707.7 1083.0,707.1 1084.7,707.8 1086.3,708.9 1088.0,707.2 1089.7,708.1 1091.3,707.2 1093.0,707.7 1094.4,707.2 1095.2,705.6 1096.2,704.3 1097.6,703.5 1099.4,703.2 1100.5,702.1 1102.5,701.4 1104.2,702.2 1105.7,704.0 1107.8,702.9 1109.4,703.9 1111.2,704.0 1113.0,704.7 1114.4,705.4 1115.8,706.4 1117.5,706.7 1119.3,706.7 1120.6,707.8 1121.4,706.4 1123.6,706.8 1124.2,704.7 1125.5,703.6 1127.9,704.3 1128.5,702.2 1130.6,702.4 1131.2,700.2 1133.0,700.0 1134.7,699.6 1136.3,701.0 1138.0,700.7 1139.6,700.9 1141.3,701.4 1143.0,701.3 1144.6,700.4 1146.4,700.5 1148.0,699.9 1149.5,698.9 1151.5,700.0 1153.0,699.1 1154.6,699.8 1156.4,698.7 1158.0,699.6 1159.7,699.6 1161.3,700.3 1163.0,699.7 1164.6,700.8 1165.9,702.1 1167.8,702.5 1168.7,704.4 1169.9,705.7 1171.7,706.3 1172.9,707.6 1174.7,707.8 1176.3,707.0 1178.0,707.3 1179.6,708.7 1181.3,707.4 1183.0,707.6 1184.7,707.0 1186.3,707.3 1188.0,707.2 1189.6,708.8 1191.3,708.4 1193.0,708.3 1194.9,707.5 1195.7,705.8 1197.3,705.1 1198.0,703.4 1199.1,702.0 1200.7,701.3 1202.3,701.7 1204.1,701.8 1205.9,700.8 1207.7,701.3 1209.4,700.5 1211.3,701.6 1213.0,700.8 1214.8,700.5 1216.1,702.2 1218.2,701.1 1219.9,701.4 1221.2,703.0 1223.0,702.8 1224.4,704.2 1225.6,705.6 1227.8,705.9 1228.3,708.2 1230.1,708.9 1230.0,709.0 1229.9,707.0 1230.7,705.0 1231.0,703.2 1230.1,701.5 1229.7,699.8 1230.1,698.0 1230.3,696.2 1229.7,694.5 1229.8,692.8 1231.0,691.0 1230.9,689.2 1230.9,687.5 1232.2,686.3 1232.9,684.6 1232.9,682.5 1233.8,680.9 1235.3,679.7 1237.0,678.9 1238.5,678.0 1240.0,677.1 1241.3,675.8 1243.2,675.2 1241.4,674.1 1240.4,672.6 1239.8,670.7 1238.2,669.8 1236.8,668.7 1235.9,667.2 1236.1,665.2 1233.9,664.5 1233.7,662.6 1235.5,661.5 1236.9,660.4 1237.9,658.8 1239.2,657.5 1240.8,656.7 1242.9,656.5 1244.0,655.0 1245.8,654.0 1246.5,652.3 1247.8,651.0 1247.2,648.5 1248.8,647.4 1247.4,646.4 1247.4,644.6 1246.5,643.1 1245.2,641.9 1245.3,640.0 1243.4,639.7 1242.2,638.3 1240.6,637.4 1239.8,635.5 1238.0,635.1 1236.9,633.3 1235.9,631.5 1236.0,629.4 1235.6,627.5 1236.5,625.9 1237.5,624.4 1238.0,622.7 1237.5,620.6 1237.9,618.8 1239.7,617.6 1240.4,615.9 1240.5,614.0 1240.5,612.2 1239.3,611.0 1238.2,609.7 1237.4,608.3 1236.5,606.9 1236.9,605.0 1237.0,603.2 1236.4,601.6 1235.1,600.3 1234.9,598.6 1234.9,596.9 1234.1,595.4 1233.1,594.0 1233.8,592.5 1234.9,591.1 1235.3,589.3 1236.2,587.9 1238.0,587.0 1239.4,585.9 1239.6,584.0 1240.4,582.5 1240.8,580.7 1241.6,579.1 1242.8,577.7 1242.7,575.8 1244.3,574.5 1243.7,572.4 1243.3,570.8 1243.4,568.9 1242.9,567.2 1243.4,565.2 1243.0,563.5 1242.9,561.6 1241.8,560.0 1239.9,559.7 1239.3,557.9 1238.1,556.9 1236.7,556.0 1235.4,555.1 1236.5,553.5 1237.4,551.9 1236.5,549.7 1238.2,548.4 1238.2,546.6 1239.0,545.0 1240.7,544.3 1241.9,543.1 1242.6,541.4 1243.0,539.6 1245.3,539.3 1245.3,537.1 1246.7,536.1 1248.2,535.2 1248.1,533.2 1248.4,531.6 1250.1,530.2 1250.5,528.5 1249.7,526.6 1250.4,525.0 1249.0,524.3 1247.5,523.6 1246.4,522.4 1246.0,520.2 1243.6,520.7 1242.5,519.4 1241.2,518.5 1239.8,517.7 1239.0,516.0 1238.6,514.0 1237.9,512.2 1236.6,510.6 1235.7,508.9 1235.5,506.9 1236.9,505.5 1238.9,504.6 1238.7,502.3 1237.5,501.1 1236.6,499.2 1235.3,497.6 1235.5,495.6 1234.3,493.8 1234.6,491.9 1235.4,490.0 1235.0,488.1 1237.1,487.0 1236.4,484.8 1238.6,483.7 1238.7,481.8 1239.1,480.0 1239.3,478.2 1240.1,476.7 1242.2,476.0 1242.2,473.9 1243.1,472.5 1245.1,471.8 1245.8,470.2 1244.3,468.3 1245.8,466.2 1244.7,464.6 1244.1,462.8 1243.7,461.1 1242.9,459.7 1243.0,457.7 1240.9,457.1 1239.8,455.9 1238.9,454.5 1237.9,453.2 1237.4,451.5 1237.0,449.8 1235.0,449.3 1234.1,447.8 1234.1,445.6 1233.1,444.2 1231.9,442.9 1229.7,442.6 1228.9,441.1 1230.6,440.0 1230.6,438.2 1231.9,437.0 1232.0,435.1 1232.3,433.4 1233.9,432.4 1234.5,430.8 1234.6,429.1 1234.1,427.4 1233.9,425.7 1234.0,424.0 1234.7,422.5 1235.7,421.2 1237.0,420.0 1236.7,418.0 1238.2,416.9 1239.6,415.8 1240.3,414.3 1240.3,412.4 1241.8,411.1 1242.0,409.3 1241.1,407.3 1241.7,405.7 1242.0,404.0 1242.7,402.4 1241.8,400.8 1239.6,401.0 1238.1,399.7 1236.2,399.3 1234.8,398.2 1234.8,395.7 1233.4,394.6 1232.4,393.1 1230.6,392.4 1231.0,391.0 1231.9,389.5 1231.0,387.6 1232.3,386.3 1232.6,384.7 1232.4,382.9 1233.8,381.6 1233.9,380.0 1234.8,378.3 1235.4,376.6 1236.2,374.8 1237.1,373.2 1238.3,371.8 1239.3,370.2 1240.3,368.6 1240.7,366.9 1240.8,365.1 1238.9,364.1 1238.7,361.8 1236.4,361.6 1235.0,360.5 1234.3,358.7 1233.1,357.4 1232.4,355.7 1232.7,353.7 1231.6,351.9 1232.1,349.9 1232.9,348.8 1234.2,347.7 1235.5,346.7 1237.3,346.1 1238.7,345.1 1239.3,343.3 1240.4,342.0 1241.8,341.1 1241.9,339.0 1243.4,337.8 1245.0,336.6 1245.8,335.0 1245.4,332.7 1247.7,331.9 1247.9,330.0 1248.4,327.9 1246.7,326.5 1246.0,324.8 1246.1,322.8 1245.8,320.9 1246.4,319.5 1248.1,318.5 1248.8,316.9 1249.3,315.0 1250.4,313.7 1249.0,312.9 1247.5,312.3 1246.0,311.5 1244.8,310.2 1243.6,308.9 1241.8,308.7 1239.9,308.3 1238.5,307.1 1237.2,305.8 1236.0,304.4 1234.0,304.1 1232.8,302.8 1234.4,301.4 1235.8,300.5 1237.1,299.2 1239.1,299.2 1241.0,299.1 1242.2,297.6 1243.9,297.1 1245.5,296.4 1246.9,295.2 1248.4,294.3 1248.7,292.4 1250.2,291.5 1250.3,289.5 1252.5,289.2 1252.9,287.4 1253.1,285.8 1254.0,284.2 1252.9,282.5 1252.8,280.8 1254.2,279.2 1253.9,277.5 1252.9,275.8 1252.9,274.1 1253.9,272.5 1253.8,270.3 1256.0,269.0 1255.5,266.7 1256.6,264.9 1255.0,264.4 1253.4,263.3 1251.7,262.6 1250.2,261.4 1248.6,260.5 1246.7,260.0 1245.0,259.0 1245.5,256.5 1243.9,255.3 1241.9,254.5 1241.4,252.6 1240.7,250.9 1242.1,249.5 1240.9,247.1 1241.4,245.2 1243.0,243.7 1241.9,242.6 1241.6,240.8 1240.5,239.6 1238.7,239.0 1237.9,237.5 1236.9,236.1 1236.1,234.4 1233.8,234.0 1232.8,232.4 1231.5,231.2 1232.7,229.5 1232.3,227.4 1234.7,226.6 1234.7,224.6 1235.5,223.1 1235.3,221.1 1236.3,219.6 1237.5,218.2 1238.9,216.9 1239.0,215.0 1239.3,213.3 1241.2,212.4 1241.2,210.6 1241.7,209.0 1241.7,207.3 1242.5,205.8 1244.3,204.8 1243.5,202.7 1244.9,201.5 1245.6,200.0 1245.8,198.0 1247.3,196.4 1248.2,194.6 1248.3,192.6 1247.4,190.7 1245.5,189.8 1244.3,188.5 1243.9,186.6 1242.9,185.1 1241.3,184.5 1240.8,182.4 1238.9,182.2 1238.7,180.1 1238.1,178.4 1235.8,177.6 1236.4,175.3 1234.7,174.2 1233.8,172.6 1233.6,170.7 1233.6,169.0 1234.7,167.5 1234.8,165.8 1235.9,164.3 1235.8,162.5 1236.0,160.7 1237.6,160.1 1238.7,158.9 1239.5,157.4 1240.8,156.4 1241.9,155.3 1243.7,154.7 1244.3,153.1 1245.1,151.6 1246.6,150.8 1245.5,149.9 1244.5,148.5 1242.8,147.7 1242.3,145.9 1240.4,145.3 1239.9,143.5 1238.6,142.4 1237.9,140.7 1239.1,139.0 1238.4,137.2 1238.8,135.5 1238.9,133.8 1239.1,132.0 1238.7,130.2 1238.0,128.5 1239.5,126.8 1239.3,125.0 1240.0,123.5 1241.1,122.1 1241.6,120.2 1243.7,119.4 1244.1,117.6 1244.0,115.7 1245.6,114.3 1245.9,112.6 1245.4,110.8 1246.9,109.3 1246.1,107.5 1245.7,105.8 1247.0,104.2 1246.6,102.5 1247.8,101.2 1248.2,99.6 1247.9,97.7 1249.3,96.5 1250.5,95.3 1250.5,93.5 1251.2,92.0 1252.4,90.8 1252.3,89.0 1253.0,87.5 1253.3,85.8 1254.0,84.2 1252.9,82.4 1252.9,80.8 1254.4,79.2 1254.0,77.5 1252.9,76.0 1253.2,73.8 1252.0,72.4 1250.4,71.4 1249.5,69.6 1247.9,68.7 1246.3,67.8 1244.4,67.5 1242.6,66.9 1241.8,64.9 1241.9,63.2 1240.8,61.7 1240.8,60.0 1240.7,58.3 1239.7,56.8 1240.3,54.9 1239.7,53.3 1239.1,51.7 1238.7,50.1 1239.1,48.3 1238.6,46.7 1239.4,45.0 1238.3,43.3 1238.8,41.7 1238.4,40.0 1238.8,38.3 1239.2,36.7 1238.2,35.0 1238.1,33.3 1239.0,31.7 1238.8,30.0 1240.0,28.8 1240.5,27.1 1241.4,25.8 1243.1,25.0 1244.3,24.0 1243.4,21.7 1241.7,20.4 1240.4,18.8 1239.9,16.9 1240.6,15.2 1240.9,13.4 1242.4,11.9 1241.4,10.0 1243.4,9.0 1243.5,7.1 1244.3,5.6 1244.9,4.0 1247.0,3.3 1246.6,1.1 1248.0,0.0 1278.0,0.0 1278.0,739.0 0.0,739.0" fill="#000" shape-rendering="crispEdges"/><polygon points="0.0,701.0 1.5,701.8 3.0,702.7 3.6,704.5 5.6,704.7 6.3,706.5 7.8,707.3 9.5,708.0 10.2,709.7 12.1,710.1 12.8,711.8 14.2,712.7 15.7,712.2 17.3,712.8 19.0,713.3 20.0,711.3 21.5,710.4 23.4,710.0 25.3,709.4 26.2,707.8 27.4,706.4 29.2,705.8 30.8,704.7 32.4,706.4 34.2,705.3 35.9,705.1 37.6,705.1 39.3,705.5 41.0,706.3 42.7,706.5 43.6,708.1 44.9,709.2 46.6,709.8 47.8,711.1 49.7,711.3 51.1,712.3 52.3,713.5 53.1,715.3 54.7,715.9 56.1,716.9 57.6,717.4 59.2,717.3 60.8,717.2 62.3,718.4 64.0,718.4 65.7,717.7 67.2,718.5 68.8,718.7 70.3,719.5 72.0,719.2 73.6,718.5 75.4,719.8 77.0,718.0 78.7,718.6 80.4,719.2 82.0,717.9 83.7,718.5 85.3,717.5 87.0,718.7 88.7,718.8 90.3,718.4 92.0,718.9 93.7,717.7 95.4,718.4 97.0,718.1 98.7,718.0 100.3,717.7 102.0,718.4 103.7,718.5 105.3,717.5 107.0,717.6 107.9,715.8 110.0,716.0 111.3,715.0 113.1,714.6 114.3,713.4 115.1,711.6 116.6,710.8 118.3,710.4 118.9,708.4 120.8,708.2 121.9,706.8 123.2,705.8 124.8,705.2 126.3,706.6 128.3,706.0 129.7,706.8 131.1,707.6 132.2,709.1 134.1,708.7 135.4,710.1 136.6,711.4 137.5,713.1 138.9,714.1 140.2,715.4 142.3,715.7 143.4,717.0 144.9,718.1 145.8,719.7 147.6,720.4 149.2,718.8 150.8,718.9 152.4,719.0 154.0,719.3 155.2,718.4 156.6,717.6 157.4,716.0 158.3,714.6 160.0,714.2 161.2,713.1 162.7,712.3 164.4,711.9 165.3,710.4 166.3,709.1 167.7,708.3 169.0,707.3 169.8,705.7 171.9,707.1 173.9,707.2 176.0,707.3 177.1,708.5 178.9,708.8 180.3,709.8 182.1,710.4 182.8,712.2 184.9,712.3 186.3,713.3 187.5,714.5 189.0,715.5 190.1,716.9 191.7,716.2 193.4,716.2 195.0,716.6 196.7,716.5 198.3,717.1 200.0,717.1 201.7,718.0 203.2,717.3 204.7,716.2 206.3,716.2 208.0,716.2 209.6,716.0 211.1,715.4 212.9,716.6 214.5,716.7 216.0,715.4 217.6,715.3 219.1,714.3 220.7,714.1 222.4,714.4 223.9,714.0 225.7,715.0 227.1,713.4 228.7,713.0 230.5,714.6 232.0,713.6 233.5,712.6 235.2,713.2 236.7,712.0 238.4,712.8 240.0,712.9 241.7,711.7 242.7,710.2 243.2,708.3 244.6,707.1 245.8,705.8 247.0,707.4 248.6,708.1 249.6,709.4 251.4,709.7 252.8,710.6 253.4,712.5 254.5,713.8 256.0,714.6 257.3,715.5 258.8,716.2 260.7,716.5 262.4,715.5 264.1,716.0 265.8,715.7 267.5,715.1 269.2,715.1 270.8,715.6 272.5,715.5 274.2,716.4 275.9,716.9 277.6,715.9 279.3,716.9 281.0,716.4 282.9,715.7 283.6,713.8 284.9,712.5 286.3,711.6 287.6,710.5 289.1,709.5 290.9,709.2 292.7,708.7 294.0,707.6 295.0,706.0 296.3,707.1 297.7,708.2 299.9,707.8 300.8,709.7 302.1,711.0 303.7,711.6 305.3,712.4 307.0,712.8 308.8,713.1 309.9,714.7 311.6,713.8 313.5,714.4 315.2,714.4 316.6,713.0 318.3,712.6 320.1,712.9 321.8,713.0 323.6,712.0 325.4,712.0 327.2,712.1 328.9,713.7 330.7,713.5 332.5,712.7 334.1,713.8 335.7,714.2 337.3,713.7 339.0,713.2 340.6,713.7 342.3,713.0 343.9,712.9 345.4,714.9 347.0,714.4 348.7,714.2 350.2,715.2 351.9,714.3 353.5,715.3 355.1,715.3 356.8,714.2 358.4,714.4 360.0,714.8 361.5,714.3 363.2,714.8 364.8,714.0 366.4,714.1 368.0,713.4 369.7,714.7 371.2,713.5 372.8,713.5 374.5,713.6 376.2,714.0 377.7,712.9 379.4,713.7 380.9,712.7 382.5,712.5 384.4,713.2 386.6,712.8 388.2,714.3 390.1,714.8 391.9,715.2 392.1,717.5 394.2,717.5 395.0,719.0 396.0,720.4 397.4,721.1 399.0,721.7 400.0,723.0 402.0,722.4 404.2,722.2 405.9,720.7 407.4,719.8 408.2,718.0 409.6,716.8 411.6,716.2 412.5,714.5 414.2,714.3 415.9,714.4 417.6,714.4 419.1,713.2 420.9,713.3 422.5,712.8 424.2,712.5 425.9,712.5 427.5,711.8 429.2,711.6 430.8,711.2 432.6,711.3 434.2,711.3 435.9,711.6 437.5,711.6 439.1,710.2 440.8,710.7 442.5,711.4 444.2,711.1 445.8,709.6 447.5,709.5 449.2,710.1 450.8,709.2 452.5,709.8 453.9,708.7 455.9,709.3 457.7,709.0 459.4,708.8 460.6,706.8 462.5,707.2 464.1,707.5 465.8,706.7 467.2,708.3 468.8,708.7 470.5,707.4 471.9,709.0 473.7,708.1 475.2,708.4 476.7,709.6 478.3,709.5 480.0,708.7 481.7,709.0 483.3,709.3 485.0,709.0 486.7,708.8 488.4,709.2 490.0,710.1 491.7,708.8 493.3,710.0 495.0,710.0 496.5,708.9 498.2,709.4 499.8,709.8 501.4,709.5 503.0,708.4 504.7,710.1 506.3,709.6 507.9,709.8 509.4,707.9 511.0,708.1 512.6,707.5 514.3,708.8 515.9,707.7 517.5,707.7 518.8,708.9 519.5,710.6 520.9,711.5 522.8,711.6 524.2,712.5 524.5,714.7 526.2,715.1 527.4,716.1 529.1,715.2 530.8,715.1 532.4,716.4 534.0,715.9 535.7,715.1 537.3,716.9 538.9,716.3 540.6,716.6 542.2,715.2 543.8,716.7 545.5,715.1 547.1,716.7 548.8,715.9 550.4,715.7 552.0,716.1 553.7,716.9 555.3,715.5 556.9,715.3 558.6,716.1 560.2,715.5 561.8,715.2 563.5,715.3 565.1,715.1 566.7,715.4 568.4,715.6 570.0,715.8 571.7,716.3 573.3,715.1 575.0,715.3 576.6,714.4 578.3,714.5 579.9,713.6 581.6,713.9 583.2,713.2 585.1,714.4 586.7,713.8 588.2,712.8 590.0,713.2 591.8,713.8 593.2,712.0 595.0,712.8 596.7,712.6 598.3,713.0 599.9,713.9 601.7,713.3 603.3,713.8 605.0,714.1 606.9,713.9 607.6,712.0 609.5,711.9 610.8,710.8 612.1,709.8 613.2,708.5 614.6,707.5 615.6,706.1 617.3,705.8 619.1,705.0 620.7,706.3 622.3,705.2 623.9,704.9 625.5,704.6 627.2,706.0 628.8,706.0 630.4,705.5 631.9,704.6 633.5,704.4 635.2,704.4 636.8,704.6 638.3,703.9 640.0,704.5 641.4,705.4 641.5,707.5 642.5,708.7 644.2,709.3 645.8,710.1 645.8,712.3 647.8,712.6 648.8,713.8 650.4,714.6 650.9,716.3 651.9,717.6 652.9,718.8 654.2,719.8 655.7,720.0 657.3,719.0 659.0,719.8 659.7,718.3 661.3,717.6 662.0,716.0 663.2,714.9 664.8,714.2 665.9,713.0 667.6,712.4 668.8,711.2 670.3,710.4 671.4,709.2 672.6,708.1 674.1,707.3 674.6,705.4 675.9,704.4 677.7,705.6 679.5,704.0 681.2,705.2 682.9,705.1 684.7,704.0 686.3,705.7 688.0,705.9 689.8,705.5 691.5,705.8 693.2,706.0 695.0,705.2 696.2,706.6 697.5,707.6 698.3,709.2 699.6,710.2 700.8,711.2 702.4,711.9 703.2,713.5 704.8,714.2 706.0,715.2 707.6,715.8 709.3,715.3 710.9,715.7 712.5,716.3 714.3,716.0 715.8,717.7 717.5,717.3 719.1,717.7 720.8,717.9 722.5,718.2 724.2,718.0 726.0,717.2 727.4,719.0 729.1,719.1 730.8,718.8 732.5,719.0 734.1,718.5 735.1,716.6 737.2,717.0 738.3,715.4 739.8,714.7 740.9,713.5 742.7,712.9 743.2,711.0 745.1,710.5 746.3,709.3 747.6,709.8 749.4,710.4 750.9,711.3 752.4,712.5 754.0,713.4 755.8,713.9 757.5,714.6 759.2,713.8 760.8,714.0 762.4,714.3 763.9,715.4 765.6,714.6 767.1,715.3 768.8,714.3 770.4,714.5 772.0,715.0 773.5,715.9 775.2,716.1 776.8,716.1 778.4,715.5 780.0,716.0 781.7,715.6 783.3,715.4 784.9,714.4 786.8,715.6 788.2,713.9 790.2,715.2 791.8,714.8 793.2,712.7 795.0,713.3 796.8,713.7 798.5,713.7 800.0,712.5 801.8,712.6 803.5,712.9 804.7,714.9 806.8,713.9 808.3,715.2 810.2,714.8 811.7,716.0 813.1,717.4 815.1,716.7 816.7,717.5 818.2,716.7 819.9,717.3 821.5,716.8 823.0,715.8 824.7,716.9 826.2,716.0 827.8,714.9 829.4,714.7 831.1,715.6 832.7,715.3 834.3,714.9 835.8,714.4 837.5,714.9 838.5,713.7 840.4,713.5 840.6,711.2 842.8,711.4 844.2,710.5 844.5,708.4 846.8,708.7 847.6,707.1 849.2,707.7 850.7,706.3 852.4,706.4 854.0,706.3 855.7,707.4 857.3,706.4 858.9,705.8 860.5,705.9 862.1,705.4 863.7,704.8 865.3,704.8 867.1,706.2 868.6,704.9 870.3,706.1 871.8,704.6 873.5,704.5 875.1,704.9 876.7,704.1 878.4,704.4 880.0,704.9 881.5,705.6 883.2,705.8 884.9,705.8 886.5,706.6 888.2,707.0 890.0,706.6 891.6,707.3 893.5,706.3 895.0,707.7 896.7,707.5 898.3,708.3 900.0,708.2 901.7,707.6 903.4,707.3 904.9,709.2 906.7,707.7 908.3,708.5 910.0,708.4 911.7,708.4 913.3,709.4 914.9,710.0 916.7,708.8 918.3,709.7 920.0,709.3 921.7,709.3 923.3,708.6 924.9,707.8 926.5,707.5 928.2,707.3 930.1,707.8 931.8,707.7 933.6,707.4 935.1,709.1 936.9,709.5 938.8,708.7 940.6,708.3 942.3,708.6 944.0,709.2 945.6,710.2 947.2,710.8 948.4,712.1 949.8,713.1 950.8,714.6 951.8,716.1 953.3,716.9 955.0,717.4 958.0,716.9 959.7,716.9 961.3,716.5 963.0,716.3 964.6,715.6 966.3,715.9 968.1,717.1 969.6,715.3 971.3,715.9 973.0,716.1 974.7,716.4 976.3,715.0 978.0,714.9 979.6,714.8 981.3,714.9 983.0,715.0 984.6,716.1 986.3,716.0 987.9,716.2 989.8,714.7 991.4,714.9 993.0,716.4 994.6,717.0 996.3,716.3 998.0,716.7 999.8,715.7 1001.4,716.6 1003.0,717.3 1004.8,716.6 1006.2,715.7 1007.7,714.9 1008.3,712.8 1009.6,711.6 1011.0,710.7 1012.8,710.4 1014.4,709.7 1016.1,709.2 1017.1,707.6 1018.6,708.4 1020.2,709.2 1022.1,709.3 1023.7,710.1 1025.8,709.8 1026.9,711.8 1029.0,711.4 1030.4,712.8 1032.1,713.2 1033.9,713.0 1035.7,713.0 1037.3,713.7 1038.8,714.8 1040.5,715.2 1042.2,715.4 1043.5,716.3 1044.2,718.0 1045.4,719.1 1046.9,719.8 1048.1,720.8 1049.4,719.9 1049.8,717.8 1051.5,717.0 1052.9,715.9 1054.9,715.4 1055.7,713.7 1057.3,712.8 1058.0,711.0 1059.7,710.4 1061.5,710.3 1063.3,711.6 1065.0,711.0 1066.7,710.1 1068.4,709.4 1070.2,710.3 1072.0,710.5 1073.7,709.9 1075.5,709.8 1076.7,711.3 1077.8,712.8 1080.1,712.8 1081.8,713.5 1082.8,715.1 1084.2,716.3 1085.4,717.6 1087.3,717.4 1088.6,719.1 1090.3,719.5 1092.1,719.5 1093.9,719.4 1095.1,721.4 1097.0,720.9 1098.7,720.4 1099.1,718.4 1100.3,717.3 1102.2,716.9 1102.8,715.1 1104.9,715.0 1105.5,713.2 1106.4,711.6 1107.9,710.8 1109.7,710.8 1111.3,711.3 1113.0,711.4 1114.8,711.4 1115.9,712.7 1117.5,713.4 1118.0,715.6 1120.3,715.1 1121.8,715.9 1123.2,716.9 1124.2,718.4 1125.3,719.8 1127.2,719.1 1128.3,717.9 1129.9,717.3 1131.0,716.2 1131.5,714.2 1132.6,713.0 1134.8,713.2 1135.8,711.9 1136.2,709.8 1138.1,709.6 1139.7,709.2 1141.5,709.1 1143.2,709.0 1145.0,708.6 1146.7,708.3 1148.5,708.8 1150.2,708.9 1152.0,710.0 1153.7,708.3 1155.5,709.4 1157.2,708.1 1159.0,708.1 1161.0,708.8 1162.7,708.5 1164.4,707.4 1166.1,706.4 1168.0,707.0 1169.4,707.8 1170.0,709.7 1172.1,709.5 1173.2,710.8 1173.8,712.6 1176.1,712.3 1176.9,713.9 1177.8,715.2 1179.5,716.0 1181.6,715.1 1183.3,715.6 1184.9,716.2 1186.1,718.3 1188.1,717.5 1189.5,719.0 1191.1,719.8 1193.0,719.4 1194.5,718.5 1196.6,719.2 1198.1,718.0 1199.5,716.7 1201.5,717.0 1203.0,715.9 1204.0,714.6 1204.9,713.1 1207.1,713.1 1208.5,712.3 1209.4,710.8 1210.7,709.8 1212.4,708.8 1214.1,709.4 1215.9,710.1 1217.5,711.3 1219.3,711.5 1221.2,710.6 1223.0,710.8 1224.6,711.7 1226.0,712.6 1227.1,714.2 1229.3,713.6 1230.4,715.2 1232.1,715.8 1233.7,716.3 1235.5,716.2 1236.8,715.0 1237.6,713.4 1238.9,712.4 1239.0,712.5 1239.9,710.7 1238.9,708.6 1239.5,706.8 1240.7,705.0 1240.2,703.2 1240.0,701.3 1240.1,699.6 1241.3,697.9 1241.0,696.0 1242.5,694.4 1242.1,692.5 1243.6,692.2 1243.9,690.0 1245.0,688.7 1246.2,687.6 1248.0,687.1 1249.5,686.4 1250.5,685.0 1250.4,682.9 1251.2,681.0 1251.8,679.0 1250.7,677.5 1249.6,676.1 1248.5,674.8 1246.8,673.9 1246.0,672.3 1247.4,670.7 1246.6,669.0 1248.3,668.2 1249.5,666.9 1251.3,666.6 1252.1,664.8 1253.6,663.9 1255.0,663.0 1256.6,662.3 1257.8,661.0 1257.5,659.2 1257.3,657.4 1257.7,655.8 1259.2,654.3 1258.5,652.5 1257.1,651.3 1257.2,649.2 1256.1,647.8 1255.7,646.0 1253.7,645.2 1252.6,643.8 1251.7,642.1 1250.4,640.9 1249.1,639.6 1247.0,639.3 1246.7,637.4 1246.2,635.8 1246.2,634.2 1247.1,632.5 1247.4,630.9 1248.5,629.4 1247.9,627.5 1249.3,626.1 1249.0,624.3 1249.1,622.5 1250.2,621.1 1250.2,619.0 1248.0,617.9 1248.2,615.8 1247.6,614.1 1246.5,612.6 1246.1,610.8 1245.3,609.1 1245.0,607.3 1244.7,605.5 1245.0,603.5 1244.7,601.7 1243.8,600.1 1244.3,598.0 1245.9,596.9 1247.6,595.9 1247.9,593.9 1249.2,592.6 1250.2,591.1 1251.9,590.1 1252.2,588.4 1251.6,586.5 1252.1,584.8 1253.0,583.3 1253.7,581.7 1254.1,580.0 1252.8,578.7 1252.5,577.1 1253.1,575.2 1252.1,573.8 1251.4,572.3 1251.0,570.7 1251.8,568.8 1250.4,567.5 1250.3,565.7 1249.5,564.0 1249.3,562.2 1249.8,560.2 1249.7,558.4 1248.1,556.8 1247.8,555.0 1249.6,553.6 1250.0,551.3 1251.4,549.8 1253.5,549.5 1254.2,547.7 1255.9,547.3 1256.6,545.6 1258.5,545.2 1259.2,543.5 1260.3,542.3 1259.5,540.8 1260.6,539.1 1260.8,537.4 1261.3,535.7 1260.2,534.0 1259.6,532.5 1258.1,531.5 1257.3,530.0 1255.6,529.1 1254.7,527.6 1254.0,526.0 1253.4,524.2 1251.0,524.1 1250.3,522.4 1249.6,520.7 1248.6,519.3 1246.3,519.1 1245.3,517.7 1247.0,515.9 1247.7,514.1 1247.3,511.9 1247.7,509.9 1248.0,508.1 1246.2,507.1 1246.3,505.1 1245.0,503.9 1244.2,502.4 1243.3,500.6 1244.6,498.8 1243.4,496.9 1243.9,495.0 1245.5,494.0 1246.4,492.6 1246.2,490.6 1247.2,489.2 1248.4,488.1 1249.5,486.8 1250.2,485.3 1250.6,483.7 1251.8,482.4 1253.5,481.6 1254.3,480.2 1253.3,478.0 1254.6,476.3 1255.3,474.4 1254.6,472.5 1254.7,470.7 1252.5,469.9 1252.5,467.9 1251.5,466.4 1250.6,464.9 1249.0,463.7 1247.9,462.1 1246.9,460.4 1245.5,459.0 1244.8,457.4 1243.6,456.2 1242.6,454.8 1241.0,453.8 1241.1,451.7 1239.9,450.4 1238.8,449.1 1240.3,447.8 1241.2,446.3 1241.4,444.5 1241.8,442.7 1243.1,441.5 1243.7,439.8 1243.5,438.1 1244.3,436.4 1243.8,434.5 1244.7,432.8 1245.1,431.1 1244.4,429.2 1245.6,427.5 1245.9,425.7 1247.9,425.3 1249.1,424.1 1249.7,422.5 1250.0,420.7 1251.8,420.0 1251.5,418.2 1252.7,416.3 1251.0,414.5 1252.5,412.7 1252.7,410.8 1251.9,409.0 1250.9,407.3 1248.8,406.9 1248.7,404.6 1246.7,404.0 1246.5,402.1 1245.4,400.9 1243.2,400.5 1243.2,398.4 1242.0,397.3 1241.6,395.7 1242.7,394.4 1244.1,393.2 1243.6,391.2 1245.6,390.3 1245.1,388.3 1246.7,387.2 1246.1,385.2 1247.4,384.0 1248.3,382.6 1247.6,380.7 1247.8,378.9 1248.4,377.1 1248.2,375.3 1247.8,373.5 1248.2,371.7 1248.7,370.0 1248.6,367.6 1246.9,365.9 1246.1,364.0 1243.7,363.4 1243.4,361.1 1241.5,360.2 1243.0,358.8 1244.4,357.7 1245.2,356.1 1247.1,355.5 1247.9,353.8 1249.0,352.5 1250.7,351.7 1250.6,349.4 1253.1,349.3 1253.6,347.6 1254.4,346.0 1256.1,345.2 1256.4,343.2 1258.6,342.9 1259.0,341.0 1257.9,339.7 1257.8,337.9 1256.4,336.8 1255.1,335.7 1255.3,333.7 1253.7,332.7 1255.5,331.2 1255.6,329.0 1257.2,327.8 1258.3,326.2 1258.2,324.0 1258.3,322.0 1257.9,320.0 1256.1,319.8 1254.9,318.7 1253.8,317.5 1253.1,315.8 1251.7,315.0 1251.8,313.1 1252.5,311.2 1251.0,309.4 1251.5,307.5 1253.4,306.8 1254.3,304.8 1255.8,303.8 1257.7,303.5 1259.0,302.1 1260.8,301.6 1262.2,300.5 1264.0,300.1 1263.6,298.1 1262.3,296.4 1262.5,294.3 1261.7,292.5 1261.5,290.5 1263.5,288.9 1262.6,286.8 1263.2,284.9 1262.8,283.2 1263.9,281.5 1264.4,279.8 1264.3,278.0 1263.6,276.2 1263.4,274.5 1263.0,272.7 1264.1,271.0 1262.9,269.7 1261.4,268.8 1260.6,267.2 1259.1,266.3 1258.2,264.8 1257.0,263.6 1255.2,263.4 1254.8,261.4 1252.4,261.7 1251.8,260.0 1251.8,258.3 1251.6,256.6 1251.5,254.9 1253.1,253.4 1251.8,251.5 1253.0,250.0 1252.4,248.1 1250.0,248.0 1248.8,246.7 1248.2,244.8 1246.8,243.7 1246.1,242.0 1245.4,240.3 1243.4,239.4 1242.9,237.6 1243.6,235.9 1244.2,234.2 1246.6,233.8 1247.4,232.3 1248.2,230.8 1248.0,228.6 1250.4,228.2 1251.2,226.7 1251.7,225.0 1252.8,223.5 1252.8,221.6 1252.9,219.8 1253.2,218.1 1254.0,216.5 1254.2,214.7 1255.3,213.2 1256.7,211.8 1256.9,210.0 1257.8,208.5 1257.9,206.8 1257.4,204.9 1258.4,203.4 1258.5,201.6 1259.2,200.1 1257.8,198.7 1256.2,197.8 1255.6,196.1 1254.8,194.4 1252.6,194.1 1252.0,192.3 1249.8,191.9 1248.8,190.3 1247.5,189.1 1246.9,187.1 1245.9,185.6 1244.1,184.9 1243.7,183.3 1244.8,181.7 1243.7,180.0 1243.5,178.3 1244.8,176.7 1244.1,175.0 1245.3,174.0 1246.3,172.7 1247.7,171.8 1248.0,170.0 1249.9,169.5 1251.1,168.2 1252.8,167.5 1253.8,165.7 1255.6,165.2 1256.8,163.8 1256.8,161.6 1257.0,159.5 1258.1,157.5 1255.8,156.9 1255.2,154.3 1252.8,154.0 1251.2,152.7 1250.3,151.0 1250.7,148.6 1248.9,147.6 1248.4,145.7 1248.4,143.9 1248.5,142.2 1250.0,140.5 1250.0,138.8 1250.3,137.0 1250.5,135.3 1249.3,133.4 1250.5,131.8 1250.4,130.0 1252.1,128.9 1253.2,127.4 1254.4,126.0 1254.2,123.5 1256.2,122.7 1256.3,120.4 1255.9,118.5 1253.7,117.1 1253.8,115.1 1254.4,113.3 1255.3,111.9 1257.5,111.7 1258.2,110.2 1259.0,108.7 1260.1,107.5 1260.6,105.8 1260.8,104.1 1261.2,102.5 1262.0,101.0 1263.7,100.1 1262.9,98.2 1263.1,96.5 1263.3,94.8 1262.5,93.0 1263.0,91.2 1263.1,89.5 1263.9,87.8 1263.2,86.0 1263.1,84.2 1263.9,82.5 1262.4,81.2 1261.8,79.5 1260.3,78.6 1258.3,78.1 1257.7,76.4 1256.7,75.0 1256.2,73.4 1254.5,72.7 1254.1,71.0 1252.8,70.0 1251.6,68.9 1252.3,67.0 1250.5,65.5 1251.8,63.6 1250.3,62.0 1249.8,60.4 1250.0,58.6 1250.9,56.8 1251.1,55.1 1249.0,53.6 1249.8,51.8 1249.6,50.1 1250.0,48.3 1248.6,46.8 1249.0,45.0 1249.1,43.1 1250.4,41.6 1249.7,39.5 1251.4,38.0 1250.5,36.0 1250.8,34.2 1251.9,32.5 1251.6,30.8 1250.7,29.1 1251.6,27.3 1250.3,25.7 1251.5,23.9 1251.2,22.2 1251.2,20.4 1250.6,18.7 1251.4,17.0 1252.6,15.5 1253.7,13.9 1255.3,12.7 1253.7,10.8 1254.3,8.7 1251.9,9.0 1250.2,7.9 1248.4,7.1 1246.9,5.7 1247.3,4.5 1247.6,2.9 1249.2,1.8 1248.8,-0.1 1278.0,0.0 1278.0,739.0 0.0,739.0" fill="#fff" shape-rendering="crispEdges"/><path d="M389 708.5H402L397 714.5Z" fill="#4caf1a"/><path d="M646.8 710.8H651.2L649 713.6Z" fill="#4caf1a"/><path d="M1037 709.5H1043L1040 712.5Z" fill="#4caf1a"/><path d="M1086 709H1092L1088.5 713Z" fill="#4caf1a"/></svg>
</body>
</html>
